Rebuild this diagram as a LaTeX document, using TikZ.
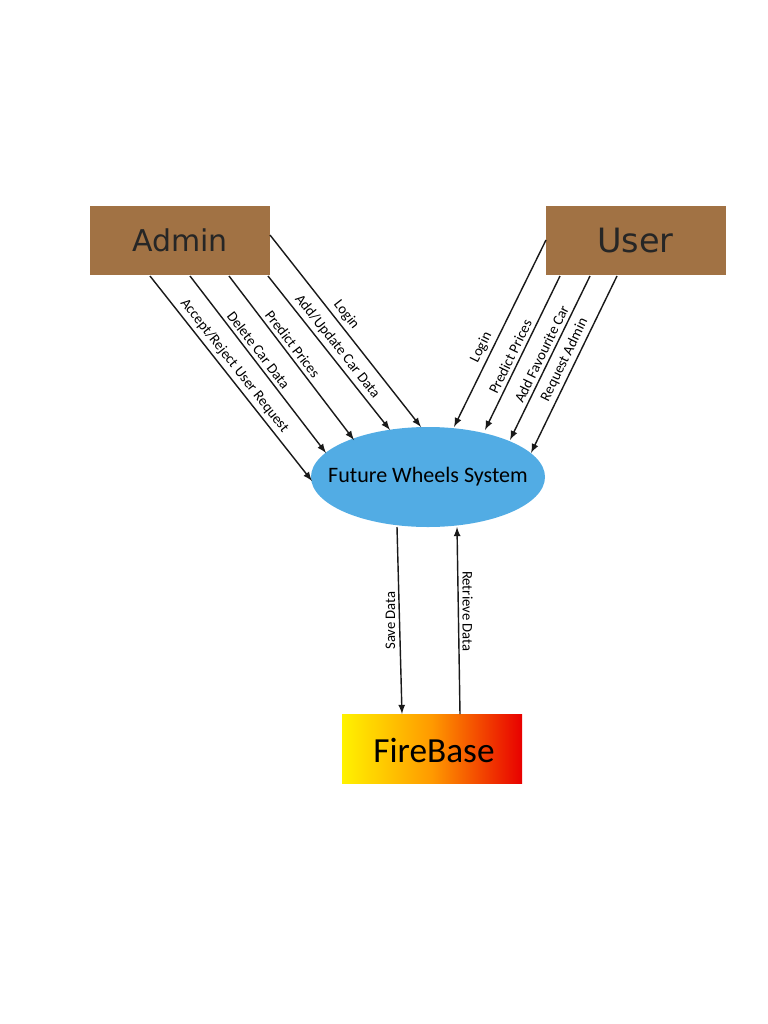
\documentclass[tikz,border=0pt]{standalone}
\usepackage{fontspec}
\setmainfont{Carlito}
\newfontfamily\boxfont{DejaVu Sans}
\definecolor{boxbrown}{RGB}{161,114,68}
\definecolor{sysblue}{RGB}{82,172,228}
\tikzset{
  actor/.style={draw=none,fill=boxbrown,minimum width=180\px,minimum height=69\px,font=\boxfont\fontsize{17}{20}\selectfont,text=black!85},
  flow/.style={draw=black!90,line width=0.8pt,-latex},
  lbl/.style={font=\fontsize{8.3}{10}\selectfont,sloped,above,inner sep=2pt}
}
\newlength{\px}
\setlength{\px}{0.567pt}
\begin{document}
\begin{tikzpicture}[x=\px,y=-\px]
\useasboundingbox (0,0) rectangle (768,1024);
\node[actor] (admin) at (180,240.5) {Admin};
\node[actor,font=\boxfont\fontsize{19}{22}\selectfont] (user) at (635.5,240.5) {User};
\fill[sysblue] (428,477) ellipse [x radius=117\px, y radius=50\px];
\node[font=\fontsize{12.5}{14}\selectfont] (sys) at (428,477) {Future Wheels System};
\shade[left color=yellow!90!orange,right color=red!85!black!60!red,middle color=orange!80!yellow] (342,714) rectangle (522,783);
\node[minimum width=180\px,minimum height=69\px,font=\fontsize{20}{24}\selectfont] (fb) at (434,750) {FireBase};
% admin side
\coordinate (a1) at (150,276); \coordinate (s1) at (312,481);
\coordinate (a2) at (190,276); \coordinate (s2) at (326,453);
\coordinate (a3) at (229,276); \coordinate (s3) at (354,440);
\coordinate (a4) at (268,276); \coordinate (s4) at (390,430);
\coordinate (a5) at (270,235); \coordinate (s5) at (421,427);
\draw[flow] (a1) -- node[lbl,pos=0.47] {Accept/Reject User Request} (s1);
\draw[flow] (a2) -- node[lbl,pos=0.45] {Delete Car Data} (s2);
\draw[flow] (a3) -- node[lbl,pos=0.45] {Predict Prices} (s3);
\draw[flow] (a4) -- node[lbl,pos=0.5] {Add/Update Car Data} (s4);
\draw[flow] (a5) -- node[lbl,pos=0.45] {Login} (s5);
% user side
\coordinate (u1) at (546,240); \coordinate (t1) at (454,427);
\coordinate (u2) at (560,276); \coordinate (t2) at (485,430);
\coordinate (u3) at (590,276); \coordinate (t3) at (510,440);
\coordinate (u4) at (617,276); \coordinate (t4) at (531,453);
\draw[flow] (u1) -- node[lbl,pos=0.6] {Login} (t1);
\draw[flow] (u2) -- node[lbl,pos=0.55] {Predict Prices} (t2);
\draw[flow] (u3) -- node[lbl,pos=0.5] {Add Favourite Car} (t3);
\draw[flow] (u4) -- node[lbl,pos=0.5] {Request Admin} (t4);
% firebase
\coordinate (d1) at (397,527); \coordinate (f1) at (402,714);
\coordinate (f2) at (460,714); \coordinate (d2) at (457,527);
\draw[flow] (d1) -- node[lbl,sloped=false,rotate=90,anchor=south,pos=0.5] {Save Data} (f1);
\draw[flow] (f2) -- node[lbl,sloped=false,rotate=-90,anchor=south,pos=0.55] {Retrieve Data} (d2);
\end{tikzpicture}
\end{document}
